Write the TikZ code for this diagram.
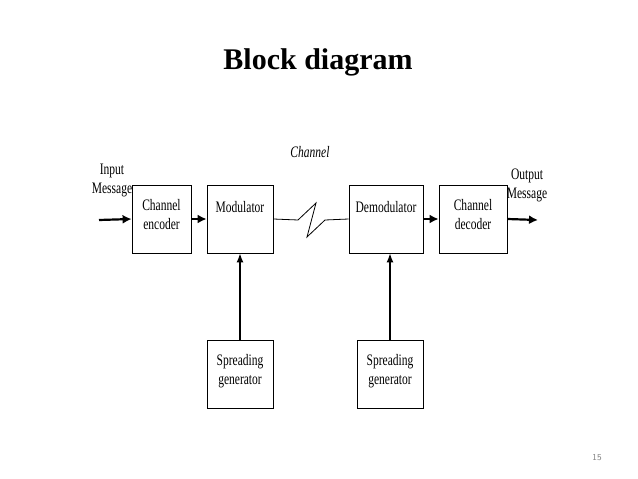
\documentclass[tikz,border=0pt]{standalone}
\usepackage{fontspec}
\setmainfont{Liberation Serif}
\newfontfamily\narrowf{Liberation Serif}[FakeStretch=0.72]
\usepackage{tikz}
\usetikzlibrary{arrows.meta, positioning}

\begin{document}
\begin{tikzpicture}[x=1pt, y=-1pt, every node/.style={font=\narrowf\fontsize{16}{19}\selectfont}]
      \tikzset{
        block/.style={rectangle, draw=black, thick, align=center, inner sep=0pt, text depth=0pt},
        label/.style={align=center, inner sep=0pt},
        line/.style={-{Latex[length=9pt, width=9pt]}, line width=2.2pt},
        feed/.style={-{Latex[length=9pt, width=7pt]}, line width=1.4pt}
      }
      \useasboundingbox (0,0) rectangle (638,479);

      % Title
      \node[font=\bfseries\fontsize{30}{34}\selectfont] (title) at (318,62) {Block diagram};

      % Blocks
      \node[block, minimum width=59pt, minimum height=68pt] (enc) at (161.5,219) {};
      \node[block, minimum width=66pt, minimum height=68pt] (mod) at (240,219) {};
      \node[block, minimum width=74pt, minimum height=68pt] (dem) at (386,219) {};
      \node[block, minimum width=68pt, minimum height=68pt] (dec) at (473,219) {};
      \node[block, minimum width=66pt, minimum height=68pt] (sg1) at (240,374) {};
      \node[block, minimum width=66pt, minimum height=68pt] (sg2) at (390,374) {};

      % Texts
      \node[label] at (161.5,215) {Channel\\encoder};
      \node[label] at (240,207) {Modulator};
      \node[label] at (386,207) {Demodulator};
      \node[label] at (473,215) {Channel\\decoder};
      \node[label] at (240,371) {Spreading\\generator};
      \node[label] at (390,371) {Spreading\\generator};
      \node[label] at (112,180) {Input\\Message};
      \node[label] at (527,185) {Output\\Message};
      \node[label, font=\narrowf\itshape\fontsize{16}{19}\selectfont] (chan) at (310,152) {Channel};
      \node[font=\sffamily\fontsize{9}{11}\selectfont, text=gray] (page) at (597,458) {15};

      % Connections
      \coordinate (in) at (99,220);
      \coordinate (out) at (538,220);
      \draw[line] (in) -- (enc.west);
      \draw[line] (enc.east) -- (mod.west);
      \draw[line] (dem.east) -- (dec.west);
      \draw[line] (dec.east) -- (out);
      \draw[feed] (sg1.north) -- (mod.south);
      \draw[feed] (sg2.north) -- (sg2.north |- dem.south);
      \draw[thick] (mod.east) -- (298,220) -- (316,203) -- (307,237) -- (325,220) -- (dem.west);

    \end{tikzpicture}
\end{document}
